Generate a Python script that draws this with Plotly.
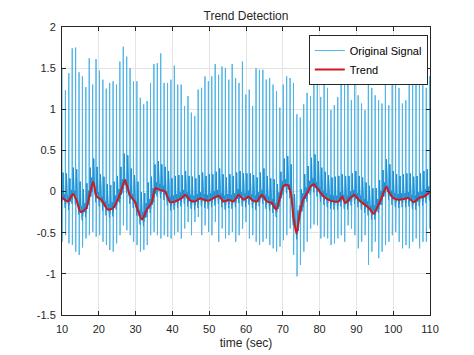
import plotly.graph_objects as go

# ---- data ----
beat_t = [10.00, 10.93, 11.85, 12.78, 13.70, 14.63, 15.55, 16.48, 17.40, 18.33,
          19.25, 20.18, 21.10, 22.03, 22.95, 23.88, 24.80, 25.73, 26.65, 27.58,
          28.50, 29.43, 30.35, 31.28, 32.20, 33.13, 34.05, 34.98, 35.90, 36.83,
          37.75, 38.68, 39.60, 40.53, 41.45, 42.38, 43.30, 44.23, 45.15, 46.08,
          47.00, 47.93, 48.85, 49.78, 50.70, 51.63, 52.55, 53.48, 54.40, 55.33,
          56.25, 57.18, 58.10, 59.03, 59.95, 60.88, 61.80, 62.73, 63.65, 64.58,
          65.50, 66.43, 67.35, 68.28, 69.20, 70.13, 71.05, 71.98, 72.90, 73.83,
          74.75, 75.68, 76.60, 77.53, 78.45, 79.38, 80.30, 81.23, 82.15, 83.08,
          84.00, 84.93, 85.85, 86.78, 87.70, 88.63, 89.55, 90.48, 91.40, 92.33,
          93.25, 94.18, 95.10, 96.03, 96.95, 97.88, 98.80, 99.73, 100.65, 101.58,
          102.50, 103.43, 104.35, 105.28, 106.20, 107.13, 108.05, 108.98, 109.90]

beat_peak = [1.50, 1.23, 1.44, 1.74, 1.75, 1.45, 1.40, 1.27, 1.62, 1.30,
             1.61, 1.47, 1.36, 1.25, 1.32, 1.34, 1.30, 1.58, 1.76, 1.64,
             1.50, 1.34, 1.34, 1.14, 1.06, 1.10, 1.32, 1.55, 1.56, 1.68,
             1.32, 1.32, 1.36, 1.53, 1.30, 1.30, 1.04, 1.16, 0.96, 0.92,
             1.24, 1.26, 1.40, 1.34, 1.40, 1.55, 1.42, 1.52, 1.50, 1.36,
             1.55, 1.38, 1.32, 1.58, 1.18, 1.24, 1.04, 1.50, 1.48, 1.48,
             1.36, 1.38, 1.30, 1.22, 1.02, 1.30, 1.40, 1.38, 1.32, 0.94,
             0.90, 1.06, 1.20, 1.16, 1.56, 1.44, 1.15, 1.34, 1.26, 0.99,
             1.05, 1.15, 1.30, 1.36, 1.34, 1.11, 1.30, 1.17, 1.07, 0.99,
             1.32, 1.26, 1.17, 1.11, 1.07, 1.30, 1.05, 1.40, 1.34, 1.26,
             1.07, 1.11, 1.40, 1.42, 1.36, 1.32, 1.36, 1.26, 1.40]

beat_trough = [-0.61, -0.53, -0.63, -0.65, -0.73, -0.77, -0.68, -0.57, -0.53, -0.49,
               -0.55, -0.53, -0.61, -0.65, -0.71, -0.73, -0.63, -0.53,
               -0.41, -0.47, -0.53, -0.61, -0.65, -0.73, -0.71, -0.65, -0.53, -0.49,
               -0.53, -0.57, -0.53, -0.55, -0.57, -0.53, -0.49, -0.57, -0.45,
               -0.37, -0.53, -0.37, -0.31, -0.53, -0.41, -0.49, -0.53, -0.37, -0.61,
               -0.45, -0.57, -0.53, -0.49, -0.61, -0.53, -0.45, -0.37, -0.57,
               -0.53, -0.61, -0.65, -0.61, -0.57, -0.65, -0.69, -0.73, -0.67, -0.59,
               -0.53, -0.45, -0.77, -1.03, -0.89, -0.73, -0.61, -0.45, -0.40,
               -0.41, -0.57, -0.55, -0.57, -0.65, -0.63, -0.57, -0.53, -0.61, -0.41,
               -0.45, -0.53, -0.69, -0.61, -0.53, -0.89, -0.73,
               -0.61, -0.81, -0.73, -0.65, -0.61, -0.53, -0.49, -0.61, -0.69, -0.65,
               -0.69, -0.61, -0.57, -0.69, -0.61, -0.61, -0.45]

beat_base = [-0.07, -0.10, -0.12, -0.05, -0.06, -0.18, -0.25, -0.21, -0.06, 0.10,
             -0.03, -0.08, -0.13, -0.19, -0.22, -0.20, -0.12, -0.04, 0.08, 0.08,
             -0.05, -0.10, -0.19, -0.30, -0.32, -0.21, -0.16, -0.03, 0.04, 0.02,
             0.00, -0.07, -0.13, -0.12, -0.10, -0.08, -0.05, -0.08, -0.11, -0.12,
             -0.10, -0.08, -0.10, -0.11, -0.09, -0.07, -0.05, -0.09, -0.12, -0.10,
             -0.11, -0.09, -0.04, -0.08, -0.09, -0.06, -0.10, -0.12, -0.08, -0.05,
             -0.11, -0.13, -0.16, -0.21, -0.08, 0.06, 0.08, 0.02, -0.31, -0.48,
             -0.24, -0.09, -0.02, 0.06, 0.09, 0.04, -0.02, -0.06, -0.09, -0.11,
             -0.12, -0.12, -0.08, -0.11, -0.12, -0.07, -0.05, -0.09, -0.12, -0.16,
             -0.19, -0.24, -0.24, -0.16, -0.06, 0.04, 0.00, -0.06, -0.09, -0.10,
             -0.09, -0.09, -0.08, -0.11, -0.12, -0.08, -0.07, -0.04, -0.01]

beat_twave = [0.30, 0.32, 0.28, 0.34, 0.33, 0.30, 0.28, 0.31, 0.35, 0.30,
              0.33, 0.29, 0.31, 0.28, 0.30, 0.32, 0.31, 0.34,
              0.38, 0.36, 0.33, 0.30, 0.31, 0.29, 0.30, 0.32, 0.34, 0.36,
              0.33, 0.31, 0.30, 0.32, 0.29, 0.31, 0.30, 0.28, 0.30,
              0.27, 0.29, 0.28, 0.30, 0.31, 0.29, 0.32, 0.30, 0.31, 0.33,
              0.30, 0.29, 0.31, 0.30, 0.32, 0.29, 0.30, 0.31, 0.28,
              0.30, 0.29, 0.31, 0.33, 0.30, 0.29, 0.31, 0.30, 0.32, 0.34,
              0.35, 0.31, 0.28, 0.25, 0.27, 0.30, 0.33, 0.35, 0.36,
              0.33, 0.31, 0.30, 0.29, 0.28, 0.30, 0.31, 0.29, 0.30, 0.31,
              0.29, 0.30, 0.28, 0.29, 0.27, 0.26, 0.28,
              0.28, 0.30, 0.32, 0.35, 0.33, 0.31, 0.30, 0.29, 0.30, 0.31,
              0.30, 0.29, 0.31, 0.30, 0.32, 0.31, 0.30]

# shape of one heartbeat around its R peak: time offsets (s) and parts
wave_dt = [-0.30, -0.22, -0.14, -0.05, 0.00, 0.04, 0.10, 0.28, 0.42]
p_wave = 0.07
q_dip = -0.10
s_return = -0.05

trend_t = [10.0, 11.6, 13.0, 13.9, 15.1, 16.6, 17.6, 18.5, 19.4, 20.7,
           22.5, 23.9, 25.7, 27.1, 28.4, 29.8, 30.7, 31.8, 33.0, 34.3,
           35.4, 36.6, 38.0, 39.4, 40.7, 42.5, 43.5, 44.9, 46.2, 47.6,
           48.5, 49.8, 51.2, 52.6, 53.9, 55.3, 56.6, 58.0, 59.4, 60.7,
           61.6, 63.0, 64.3, 65.7, 67.1, 68.2, 69.3, 70.2, 71.3, 72.2,
           72.9, 73.7, 74.6, 75.5, 76.6, 77.5, 78.4, 79.7, 81.1, 82.5,
           83.8, 85.2, 86.1, 87.0, 88.3, 89.4, 90.6, 92.0, 92.9, 93.8,
           94.7, 95.8, 97.0, 98.1, 99.0, 100.1, 101.5, 102.8, 104.2, 105.6,
           106.9, 108.3, 109.6, 110.0]
trend_v = [-0.07, -0.12, -0.03, -0.10, -0.25, -0.20, -0.02, 0.12, -0.06, -0.10,
           -0.22, -0.20, -0.04, 0.14, -0.04, -0.12, -0.24, -0.34, -0.22, -0.14,
           0.04, 0.02, 0.00, -0.13, -0.12, -0.08, -0.04, -0.11, -0.12, -0.08,
           -0.10, -0.11, -0.08, -0.05, -0.12, -0.10, -0.12, -0.04, -0.10, -0.06,
           -0.10, -0.12, -0.04, -0.12, -0.14, -0.22, -0.06, 0.07, 0.08, -0.02,
           -0.31, -0.51, -0.27, -0.10, -0.02, 0.06, 0.09, 0.02, -0.06, -0.10,
           -0.12, -0.12, -0.06, -0.14, -0.08, -0.04, -0.10, -0.15, -0.18, -0.22,
           -0.27, -0.18, -0.06, 0.06, -0.02, -0.08, -0.10, -0.09, -0.08, -0.13,
           -0.08, -0.06, -0.02, 0.00]

x_ticks = [10, 20, 30, 40, 50, 60, 70, 80, 90, 100, 110]
y_ticks = [-1.5, -1, -0.5, 0, 0.5, 1, 1.5, 2]
y_tick_labels = ["-1.5", "-1", "-0.5", "0", "0.5", "1", "1.5", "2"]

# ---- build signal traces ----
sig_x, sig_y = [], []
band_x, band_y = [], []
for t, r, s, b, tw in zip(beat_t, beat_peak, beat_trough, beat_base, beat_twave):
    vals = [b, b + p_wave, b, b + q_dip, r, s, b + s_return, b + tw, b]
    for i, (dt, v) in enumerate(zip(wave_dt, vals)):
        tt = t + dt
        if tt < 10 or tt > 110:
            continue
        sig_x.append(tt)
        sig_y.append(v)
        if i in (4, 5):
            if band_x and band_x[-1] is not None:
                band_x.append(None)
                band_y.append(None)
        else:
            band_x.append(tt)
            band_y.append(v)

AX = "#262626"
FONT = "Liberation Sans, Arial, sans-serif"
W, H = 466, 347  # page body adds an 8px offset inside the 474x355 window

fig = go.Figure()
fig.add_trace(go.Scatter(x=sig_x, y=sig_y, mode="lines", name="Original Signal",
                         line=dict(color="#4DB4E6", width=1)))
fig.add_trace(go.Scatter(x=band_x, y=band_y, mode="lines", showlegend=False,
                         hoverinfo="skip", connectgaps=False,
                         line=dict(color="#1F8ED2", width=1)))
fig.add_trace(go.Scatter(x=trend_t, y=trend_v, mode="lines", name="Trend",
                         line=dict(color="#D0191E", width=2, shape="spline",
                                   smoothing=0.6)))

fig.update_layout(
    width=W, height=H,
    margin=dict(l=54, r=44, t=19, b=40, autoexpand=False),
    paper_bgcolor="white", plot_bgcolor="white",
    font=dict(family=FONT, size=11, color=AX),
    title=dict(text="Trend Detection", x=238 / W, xanchor="center",
               y=1 - 8 / H, yanchor="middle", yref="container",
               font=dict(size=12, color=AX)),
    showlegend=True,
    legend=dict(x=0.994, xanchor="right", y=0.972, yanchor="top",
                bgcolor="white", bordercolor=AX, borderwidth=1,
                font=dict(size=11, color="black"),
                tracegroupgap=0, itemwidth=30),
)
fig.update_xaxes(range=[10, 110], tickvals=x_ticks, ticks="inside", ticklen=4,
                 tickcolor=AX, showline=True, linecolor=AX, linewidth=1,
                 mirror="ticks", showgrid=True, gridcolor="#E3E3E3",
                 zeroline=False, tickfont=dict(size=11, color=AX),
                 ticklabelstandoff=4, automargin=False,
                 title=dict(text="time (sec)", font=dict(size=12, color=AX),
                            standoff=4))
fig.update_yaxes(range=[-1.5, 2], tickvals=y_ticks, ticktext=y_tick_labels,
                 ticks="inside", ticklen=4, tickcolor=AX, showline=True,
                 linecolor=AX, linewidth=1, mirror="ticks", showgrid=True,
                 gridcolor="#E3E3E3", zeroline=False, automargin=False,
                 ticklabelstandoff=3, tickfont=dict(size=11, color=AX))

fig.write_html("out.html")
